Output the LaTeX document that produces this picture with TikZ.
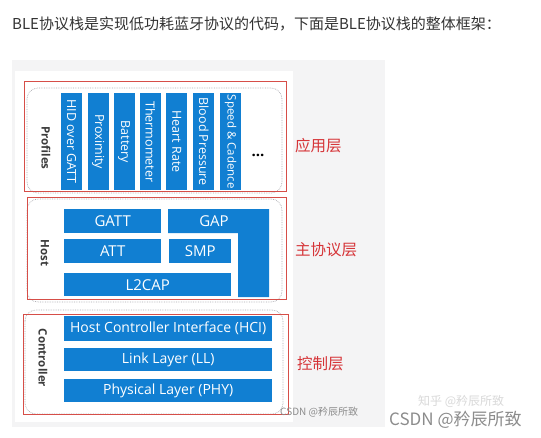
\documentclass[tikz,border=0pt]{standalone}
\usepackage{fontspec}
\setmainfont{Open Sans}
\newfontfamily\cjk{Noto Sans CJK SC}
\definecolor{bgray}{RGB}{244,244,245}
\definecolor{blu}{RGB}{17,127,210}
\definecolor{redbox}{RGB}{214,78,72}
\definecolor{redtxt}{RGB}{214,52,56}
\definecolor{dotg}{RGB}{170,170,176}
\definecolor{lblg}{RGB}{60,60,60}
\definecolor{ttl}{RGB}{51,51,51}
\tikzset{
  bar/.style={fill=blu, draw=none, inner sep=0pt, text=white, font=\fontsize{12.5}{12.5}\selectfont},
  vbar/.style={bar, minimum width=21pt, minimum height=97pt, anchor=north west},
  hbar/.style={bar, font=\fontsize{15}{15}\selectfont, anchor=north west},
  cbar/.style={bar, font=\fontsize{14}{14}\selectfont, anchor=north west, minimum width=208pt},
  layer/.style={draw=dotg, densely dotted, line width=0.7pt, rounded corners=11pt},
  redframe/.style={draw=redbox, line width=1.3pt, anchor=north west, inner sep=0pt},
  sidelbl/.style={rotate=-90, font=\bfseries\fontsize{11.5}{11.5}\selectfont, text=lblg, inner sep=0pt},
  redlbl/.style={font=\cjk\fontsize{15.5}{15.5}\selectfont, text=redtxt, anchor=west, inner sep=0pt}
}
\begin{document}
\begin{tikzpicture}[x=1pt,y=-1pt]
\useasboundingbox (0,0) rectangle (541,437);
\fill[white] (0,0) rectangle (541,437);
% title
\node[anchor=west, inner sep=0pt, font=\cjk\fontsize{15}{15}\selectfont, text=ttl] (title) at (12,24) {BLE协议栈是实现低功耗蓝牙协议的代码，下面是BLE协议栈的整体框架：};
% panel
\fill[bgray] (12,60) rectangle (385,427);
\fill[white] (15,71) rectangle (293,422);
% layer dotted boxes
\draw[layer] (27,88) rectangle (282,193);
\draw[layer] (27,199) rectangle (282,302);
\draw[layer] (25,310) rectangle (283,414);
% profiles
\node[vbar] (p1) at (61,93) {\rotatebox{-90}{HID over GATT}};
\node[vbar] (p2) at (87.5,93) {\rotatebox{-90}{Proximity}};
\node[vbar] (p3) at (113.5,93) {\rotatebox{-90}{Battery}};
\node[vbar] (p4) at (139.5,93) {\rotatebox{-90}{Thermometer}};
\node[vbar] (p5) at (166,93) {\rotatebox{-90}{Heart Rate}};
\node[vbar] (p6) at (193,93) {\rotatebox{-90}{Blood Pressure}};
\node[vbar] (p7) at (220,93) {\rotatebox{-90}{\fontsize{11.5}{11.5}\selectfont Speed \& Cadence}};
\node[font=\bfseries\fontsize{15}{15}\selectfont, text=black, inner sep=0pt] (dots) at (258,155) {...};
\node[sidelbl] (lprof) at (46,148) {Profiles};
% host
\node[hbar, minimum width=97pt, minimum height=24pt] (gatt) at (64,209) {GATT};
\node[hbar, minimum width=97pt, minimum height=24pt] (att) at (64,239) {ATT};
\node[hbar, minimum width=62pt, minimum height=24pt] (smp) at (169,239) {SMP};
\node[hbar, minimum width=167pt, minimum height=23pt] (l2cap) at (64,273) {L2CAP};
\fill[blu] (168,209) -- (269,209) -- (269,297) -- (238,297) -- (238,233) -- (168,233) -- cycle;
\node[text=white, font=\fontsize{15}{15}\selectfont, inner sep=0pt] (gap) at (214,221) {GAP};
\node[sidelbl] (lhost) at (45,253) {Host};
% controller
\node[cbar, minimum height=25pt] (hci) at (64,316) {Host Controller Interface (HCI)};
\node[cbar, minimum height=23pt] (ll) at (64,348) {Link Layer (LL)};
\node[cbar, minimum height=23pt] (phy) at (64,379) {Physical Layer (PHY)};
\node[sidelbl] (lctrl) at (43,358) {Controller};
% red frames
\node[redframe, minimum width=262pt, minimum height=110pt] (f1) at (24,81) {};
\node[redframe, minimum width=259pt, minimum height=102pt] (f2) at (27,197) {};
\node[redframe, minimum width=265pt, minimum height=100pt] (f3) at (23,314) {};
\node[redlbl] (r1) at (295,146) {应用层};
\node[redlbl] (r2) at (295,250) {主协议层};
\node[redlbl] (r3) at (297,364) {控制层};
% watermarks
\node[anchor=west, inner sep=0pt, font=\cjk\fontsize{10}{10}\selectfont, text=black!45] (wm1) at (280,412) {CSDN @矜辰所致};
\node[anchor=west, inner sep=0pt, font=\cjk\fontsize{12}{12}\selectfont, text=black!15] (wm2) at (418,401) {知乎 @矜辰所致};
\node[anchor=west, inner sep=0pt, font=\cjk\fontsize{17}{17}\selectfont, text=black!45] (wm3) at (389,420) {CSDN @矜辰所致};
\end{tikzpicture}
\end{document}
